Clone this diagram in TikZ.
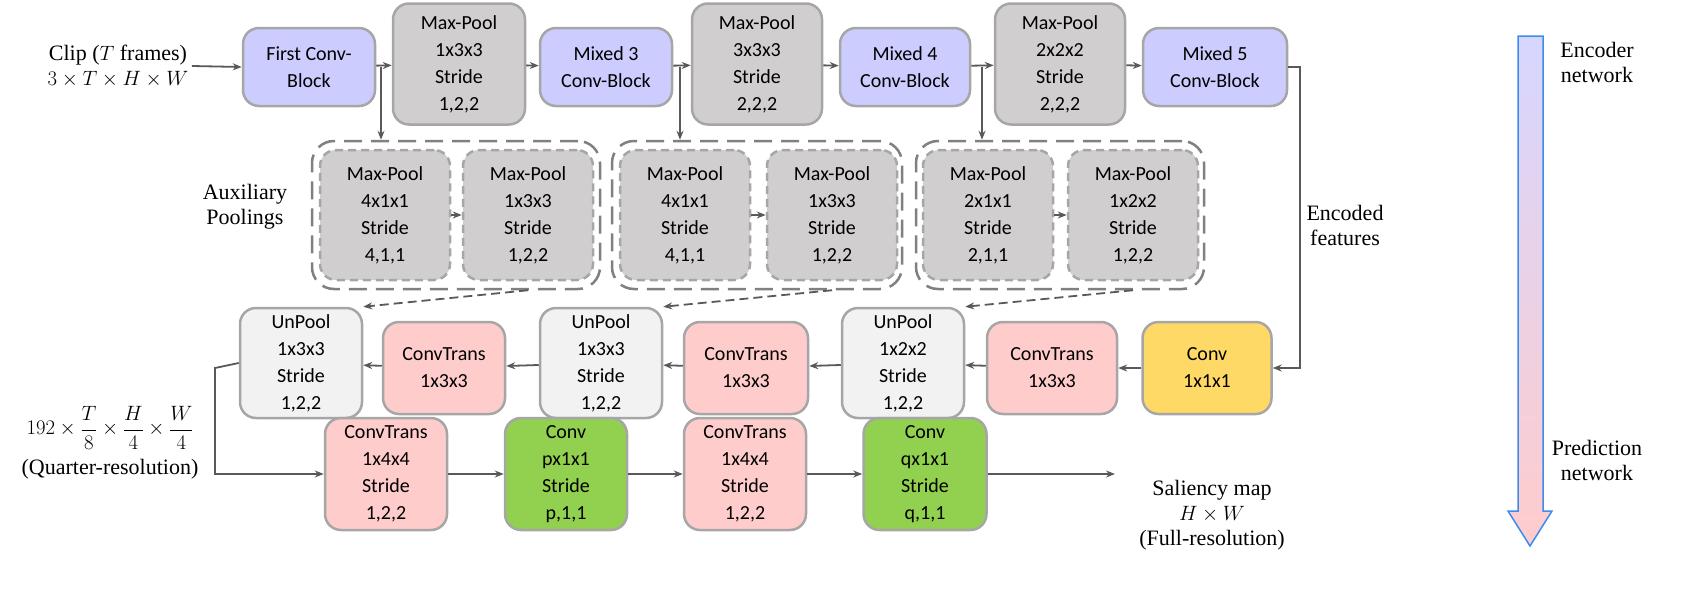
\documentclass[tikz,border=0pt]{standalone}
\usepackage{fontspec}
\setmainfont{Liberation Serif}
\newfontfamily\boxf{Carlito}
\usetikzlibrary{arrows.meta,shapes.arrows}
\definecolor{cblue}{HTML}{CCCCFF}
\definecolor{cgray}{HTML}{D0CECE}
\definecolor{clgray}{HTML}{F2F2F2}
\definecolor{cpink}{HTML}{FFCCCC}
\definecolor{cyel}{HTML}{FFD966}
\definecolor{cgreen}{HTML}{92D050}
\definecolor{cbord}{HTML}{A6A6A6}
\definecolor{carr}{HTML}{595959}
\begin{document}
\begin{tikzpicture}[x=1pt,y=-1pt,
  blk/.style={draw=cbord,line width=2.5pt,rounded corners=16pt,inner sep=0pt,
    font=\boxf\fontsize{20}{27}\selectfont,align=center},
  dblk/.style={blk,dashed,dash pattern=on 8pt off 5pt},
  grp/.style={draw=gray,line width=2.5pt,dash pattern=on 18pt off 9pt,rounded corners=22pt},
  ar/.style={draw=carr,line width=1.8pt,-{Stealth[length=9pt,width=7pt]}},
  dar/.style={ar,dashed,dash pattern=on 9pt off 5pt},
  lab/.style={font=\fontsize{22}{25}\selectfont,align=center}]
\useasboundingbox (0,0) rectangle (1690,616);
% Row 1
\node[blk,fill=cblue,minimum width=132pt,minimum height=78pt] (fc) at (309,67) {First Conv-\\Block};
\node[blk,fill=cgray,minimum width=132pt,minimum height=121pt] (mp1) at (459,64) {Max-Pool\\1x3x3\\Stride\\1,2,2};
\node[blk,fill=cblue,minimum width=132pt,minimum height=78pt] (m3) at (606,67) {Mixed 3\\Conv-Block};
\node[blk,fill=cgray,minimum width=130pt,minimum height=121pt] (mp2) at (757,64) {Max-Pool\\3x3x3\\Stride\\2,2,2};
\node[blk,fill=cblue,minimum width=130pt,minimum height=78pt] (m4) at (905,67) {Mixed 4\\Conv-Block};
\node[blk,fill=cgray,minimum width=130pt,minimum height=121pt] (mp3) at (1060,64) {Max-Pool\\2x2x2\\Stride\\2,2,2};
\node[blk,fill=cblue,minimum width=144pt,minimum height=78pt] (m5) at (1215,67) {Mixed 5\\Conv-Block};
\node[lab] (clip) at (118,66) {Clip ($T$ frames)\\$3\times T\times H\times W$};
\draw[ar] (clip.east) -- (fc.west);
\draw[ar] (fc) -- (mp1);
\draw[ar] (mp1) -- (m3);
\draw[ar] (m3) -- (mp2);
\draw[ar] (mp2) -- (m4);
\draw[ar] (m4) -- (mp3);
\draw[ar] (mp3) -- (m5);
% Row 2
\node[dblk,fill=cgray,minimum width=130pt,minimum height=130pt] (a1) at (385,215) {Max-Pool\\4x1x1\\Stride\\4,1,1};
\node[dblk,fill=cgray,minimum width=130pt,minimum height=130pt] (a2) at (528,215) {Max-Pool\\1x3x3\\Stride\\1,2,2};
\node[dblk,fill=cgray,minimum width=130pt,minimum height=130pt] (b1) at (685,215) {Max-Pool\\4x1x1\\Stride\\4,1,1};
\node[dblk,fill=cgray,minimum width=130pt,minimum height=130pt] (b2) at (832,215) {Max-Pool\\1x3x3\\Stride\\1,2,2};
\node[dblk,fill=cgray,minimum width=130pt,minimum height=130pt] (c1) at (988,215) {Max-Pool\\2x1x1\\Stride\\2,1,1};
\node[dblk,fill=cgray,minimum width=130pt,minimum height=130pt] (c2) at (1133,215) {Max-Pool\\1x2x2\\Stride\\1,2,2};
\node[grp,minimum width=288pt,minimum height=148pt] (g1) at (456,215) {};
\node[grp,minimum width=290pt,minimum height=148pt] (g2) at (757,215) {};
\node[grp,minimum width=288pt,minimum height=148pt] (g3) at (1060,215) {};
\draw[ar] (a1) -- (a2);
\draw[ar] (b1) -- (b2);
\draw[ar] (c1) -- (c2);
\node[lab] (aux) at (245,207) {Auxiliary\\Poolings};
\coordinate (s1) at (381,67);
\coordinate (s2) at (680,67);
\coordinate (s3) at (982,67);
\draw[ar] (s1) -- (s1 |- g1.north);
\draw[ar] (s2) -- (s2 |- g2.north);
\draw[ar] (s3) -- (s3 |- g3.north);
% Row 3
\node[blk,fill=clgray,minimum width=122pt,minimum height=110pt] (u1) at (301,363) {UnPool\\1x3x3\\Stride\\1,2,2};
\node[blk,fill=cpink,minimum width=122pt,minimum height=92pt] (t1) at (444,368) {ConvTrans\\1x3x3};
\node[blk,fill=clgray,minimum width=122pt,minimum height=110pt] (u2) at (601,363) {UnPool\\1x3x3\\Stride\\1,2,2};
\node[blk,fill=cpink,minimum width=124pt,minimum height=92pt] (t2) at (746,368) {ConvTrans\\1x3x3};
\node[blk,fill=clgray,minimum width=122pt,minimum height=110pt] (u3) at (903,363) {UnPool\\1x2x2\\Stride\\1,2,2};
\node[blk,fill=cpink,minimum width=130pt,minimum height=92pt] (t3) at (1052,368) {ConvTrans\\1x3x3};
\node[blk,fill=cyel,minimum width=129pt,minimum height=92pt] (cv) at (1207,368) {Conv\\1x1x1};
\coordinate (m5r) at (1300,67);
\draw[ar] (m5.east) -- (m5r) |- (cv.east);
\node[lab] (enc) at (1345,225) {Encoded\\features};
\draw[ar] (cv) -- (t3);
\draw[ar] (t3) -- (u3);
\draw[ar] (u3) -- (t2);
\draw[ar] (t2) -- (u2);
\draw[ar] (u2) -- (t1);
\draw[ar] (t1) -- (u1);
\draw[dar] (g1.south -| a2) -- (u1.north east);
\draw[dar] (g2.south -| b2) -- (u2.north east);
\draw[dar] (g3.south -| c2) -- (u3.north east);
% Row 4
\node[blk,fill=cpink,minimum width=122pt,minimum height=112pt] (r1) at (386,474) {ConvTrans\\1x4x4\\Stride\\1,2,2};
\node[blk,fill=cgreen,minimum width=122pt,minimum height=112pt] (r2) at (566,474) {Conv\\px1x1\\Stride\\p,1,1};
\node[blk,fill=cpink,minimum width=122pt,minimum height=112pt] (r3) at (745,474) {ConvTrans\\1x4x4\\Stride\\1,2,2};
\node[blk,fill=cgreen,minimum width=123pt,minimum height=112pt] (r4) at (925,474) {Conv\\qx1x1\\Stride\\q,1,1};
\coordinate (lk) at (215,368);
\draw[ar] (u1.west) -- (lk) |- (r1.west);
\node[lab] (qf) at (110,428) {$\displaystyle 192\times\frac{T}{8}\times\frac{H}{4}\times\frac{W}{4}$};
\node[lab] (qr) at (110,469) {(Quarter-resolution)};
\draw[ar] (r1) -- (r2);
\draw[ar] (r2) -- (r3);
\draw[ar] (r3) -- (r4);
\node[lab] (sal) at (1212,515) {Saliency map\\$H\times W$\\(Full-resolution)};
\coordinate (se) at (1115,474);
\draw[ar] (r4.east) -- (se);
% big arrow
\shade[top color=cblue!80!white,bottom color=cpink] (1518,36) -- (1543,36) -- (1543,511) -- (1552,511) -- (1530,546) -- (1508,511) -- (1518,511) -- cycle;
\draw[draw={rgb,255:red,60;green,140;blue,240},line width=1.5pt] (1518,36) -- (1543,36) -- (1543,511) -- (1552,511) -- (1530,546) -- (1508,511) -- (1518,511) -- cycle;
\node[lab] (en) at (1597,62) {Encoder\\network};
\node[lab] (pn) at (1597,460) {Prediction\\network};
\end{tikzpicture}
\end{document}
